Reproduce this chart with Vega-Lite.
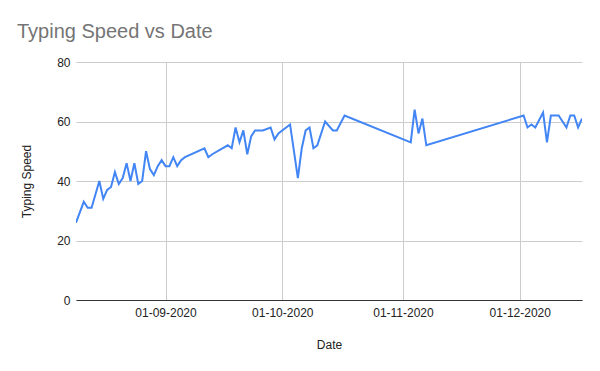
{
  "$schema": "https://vega.github.io/schema/vega-lite/v6.json",
  "autosize": "none",
  "width": 506,
  "height": 238,
  "padding": {"left": 76, "top": 62, "right": 18, "bottom": 71},
  "background": "white",
  "title": {
    "text": "Typing Speed vs Date",
    "anchor": "start",
    "frame": "group",
    "dx": -59,
    "offset": -2,
    "baseline": "alphabetic",
    "font": "Liberation Sans",
    "fontSize": 20,
    "fontWeight": "normal",
    "color": "#757575"
  },
  "config": {
    "view": {"stroke": null},
    "axis": {
      "labelFont": "Liberation Sans",
      "titleFont": "Liberation Sans",
      "labelFontSize": 12,
      "titleFontSize": 12,
      "labelColor": "#222222",
      "titleColor": "#222222",
      "titleFontWeight": "normal",
      "gridColor": "#cccccc",
      "gridWidth": 1,
      "ticks": false
    }
  },
  "data": {
    "values": [
      {"date": "2020-08-09", "speed": 26},
      {"date": "2020-08-11", "speed": 33},
      {"date": "2020-08-12", "speed": 31},
      {"date": "2020-08-13", "speed": 31},
      {"date": "2020-08-15", "speed": 40},
      {"date": "2020-08-16", "speed": 34},
      {"date": "2020-08-17", "speed": 37},
      {"date": "2020-08-18", "speed": 38},
      {"date": "2020-08-19", "speed": 43},
      {"date": "2020-08-20", "speed": 39},
      {"date": "2020-08-21", "speed": 41},
      {"date": "2020-08-22", "speed": 46},
      {"date": "2020-08-23", "speed": 40},
      {"date": "2020-08-24", "speed": 46},
      {"date": "2020-08-25", "speed": 39},
      {"date": "2020-08-26", "speed": 40},
      {"date": "2020-08-27", "speed": 50},
      {"date": "2020-08-28", "speed": 44},
      {"date": "2020-08-29", "speed": 42},
      {"date": "2020-08-30", "speed": 45},
      {"date": "2020-08-31", "speed": 47},
      {"date": "2020-09-01", "speed": 45},
      {"date": "2020-09-02", "speed": 45},
      {"date": "2020-09-03", "speed": 48},
      {"date": "2020-09-04", "speed": 45},
      {"date": "2020-09-05", "speed": 47},
      {"date": "2020-09-06", "speed": 48},
      {"date": "2020-09-11", "speed": 51},
      {"date": "2020-09-12", "speed": 48},
      {"date": "2020-09-13", "speed": 49},
      {"date": "2020-09-17", "speed": 52},
      {"date": "2020-09-18", "speed": 51},
      {"date": "2020-09-19", "speed": 58},
      {"date": "2020-09-20", "speed": 53},
      {"date": "2020-09-21", "speed": 57},
      {"date": "2020-09-22", "speed": 49},
      {"date": "2020-09-23", "speed": 55},
      {"date": "2020-09-24", "speed": 57},
      {"date": "2020-09-26", "speed": 57},
      {"date": "2020-09-28", "speed": 58},
      {"date": "2020-09-29", "speed": 54},
      {"date": "2020-09-30", "speed": 56},
      {"date": "2020-10-03", "speed": 59},
      {"date": "2020-10-05", "speed": 41},
      {"date": "2020-10-06", "speed": 51},
      {"date": "2020-10-07", "speed": 57},
      {"date": "2020-10-08", "speed": 58},
      {"date": "2020-10-09", "speed": 51},
      {"date": "2020-10-10", "speed": 52},
      {"date": "2020-10-12", "speed": 60},
      {"date": "2020-10-14", "speed": 57},
      {"date": "2020-10-15", "speed": 57},
      {"date": "2020-10-17", "speed": 62},
      {"date": "2020-11-03", "speed": 53},
      {"date": "2020-11-04", "speed": 64},
      {"date": "2020-11-05", "speed": 56},
      {"date": "2020-11-06", "speed": 61},
      {"date": "2020-11-07", "speed": 52},
      {"date": "2020-12-02", "speed": 62},
      {"date": "2020-12-03", "speed": 58},
      {"date": "2020-12-04", "speed": 59},
      {"date": "2020-12-05", "speed": 58},
      {"date": "2020-12-07", "speed": 63},
      {"date": "2020-12-08", "speed": 53},
      {"date": "2020-12-09", "speed": 62},
      {"date": "2020-12-11", "speed": 62},
      {"date": "2020-12-13", "speed": 58},
      {"date": "2020-12-14", "speed": 62},
      {"date": "2020-12-15", "speed": 62},
      {"date": "2020-12-16", "speed": 58},
      {"date": "2020-12-17", "speed": 61}
    ]
  },
  "mark": {"type": "line", "color": "#4285F4", "strokeWidth": 2, "clip": true},
  "encoding": {
    "x": {
      "field": "date",
      "type": "temporal",
      "title": "Date",
      "scale": {"type": "utc", "nice": false},
      "axis": {
        "format": "%d-%m-%Y",
        "values": [
          {"year": 2020, "month": 9, "date": 1, "utc": true},
          {"year": 2020, "month": 10, "date": 1, "utc": true},
          {"year": 2020, "month": 11, "date": 1, "utc": true},
          {"year": 2020, "month": 12, "date": 1, "utc": true}
        ],
        "domainColor": "#333333",
        "domainWidth": 1,
        "labelPadding": 7,
        "titlePadding": 21,
        "labelFlush": false
      }
    },
    "y": {
      "field": "speed",
      "type": "quantitative",
      "title": "Typing Speed",
      "scale": {"domain": [0, 80], "nice": false},
      "axis": {
        "values": [0, 20, 40, 60, 80],
        "domain": false,
        "labelPadding": 6,
        "titlePadding": 23
      }
    }
  }
}
